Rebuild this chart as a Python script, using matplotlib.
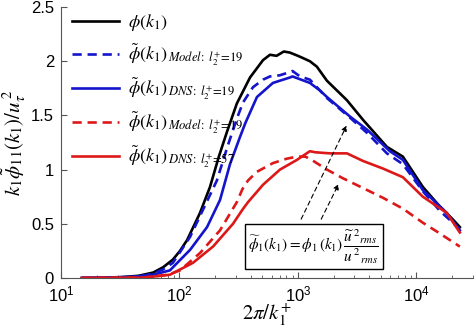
import matplotlib.pyplot as plt

plt.rcParams['font.family'] = ['Liberation Sans', 'DejaVu Sans']
plt.rcParams['mathtext.fontset'] = 'stix'
plt.rcParams['font.size'] = 12

# phi(k1), unfiltered
x_phi = [15, 30, 45, 60, 73, 88, 101, 116, 149, 181, 215, 252, 305, 394, 507, 581,
         660, 760, 855, 1000, 1100, 1262, 1445, 1758, 2594, 3540, 5636, 7690,
         11340, 15780, 20330, 23270]
y_phi = [0, 0.005, 0.02, 0.05, 0.10, 0.17, 0.25, 0.35, 0.60, 0.84, 1.12, 1.35, 1.61,
         1.85, 2.01, 2.06, 2.05, 2.09, 2.08, 2.05, 2.03, 2.00, 1.95, 1.82, 1.64, 1.46,
         1.21, 1.12, 0.84, 0.66, 0.54, 0.47]

# filtered, model, l2+ = 19
x_model19 = [15, 45, 60, 73, 88, 123, 158, 207, 252, 305, 344, 417, 507, 581, 700,
             855, 900, 1040, 1262, 1758, 2748, 3822, 5636, 7690, 11340, 15780, 23270]
y_model19 = [0, 0.01, 0.04, 0.08, 0.14, 0.38, 0.63, 0.90, 1.20, 1.47, 1.62, 1.76,
             1.83, 1.86, 1.87, 1.90, 1.91, 1.86, 1.83, 1.66, 1.48, 1.34, 1.15, 1.05,
             0.80, 0.62, 0.45]

# filtered, DNS, l2+ = 19
x_dns19 = [15, 40, 60, 83, 123, 171, 220, 267, 324, 360, 451, 615, 855, 900, 1262,
           1535, 1758, 2748, 3822, 5970, 7690, 11340, 18070, 23270]
y_dns19 = [0, 0.01, 0.03, 0.07, 0.26, 0.47, 0.72, 1.05, 1.30, 1.43, 1.67, 1.80, 1.85,
           1.86, 1.80, 1.73, 1.67, 1.49, 1.37, 1.17, 1.09, 0.81, 0.60, 0.44]

# filtered, model, l2+ = 19 (red)
x_model19b = [15, 50, 80, 101, 149, 220, 305, 340, 379, 451, 615, 800, 981, 1150,
              1262, 1758, 2400, 3540, 5217, 7690, 11340, 14800, 23270]
y_model19b = [0, 0.005, 0.03, 0.07, 0.23, 0.44, 0.70, 0.82, 0.90, 0.98, 1.06, 1.10,
              1.12, 1.12, 1.10, 1.00, 0.92, 0.83, 0.74, 0.64, 0.51, 0.43, 0.29]

# filtered, DNS, l2+ = 57
x_dns57 = [15, 50, 83, 130, 192, 283, 340, 379, 507, 705, 981, 1262, 1400, 1862,
           2594, 3540, 5217, 7690, 11340, 18070, 23270]
y_dns57 = [0, 0.003, 0.03, 0.14, 0.29, 0.50, 0.63, 0.70, 0.86, 1.00, 1.09, 1.17,
           1.16, 1.15, 1.15, 1.08, 1.01, 0.93, 0.75, 0.60, 0.42]

blue = '#1414cc'
red = '#dd1818'
lw = 1.9

fig = plt.figure(figsize=(4.74, 3.32), dpi=100)
ax = fig.add_axes([0.1287, 0.1627, 0.869, 0.816])

ax.semilogx(x_phi, y_phi, color='k', lw=lw, label=r'$\phi(k_1)$')
ax.semilogx(x_model19, y_model19, color=blue, lw=lw, ls=(0, (3.5, 2.2)),
            label=r'$\tilde{\phi}(k_1)_{\,Model\!:\;l_2^{+}\!=\!19}$')
ax.semilogx(x_dns19, y_dns19, color=blue, lw=lw,
            label=r'$\tilde{\phi}(k_1)_{\,DNS\!:\;l_2^{+}\!=\!19}$')
ax.semilogx(x_model19b, y_model19b, color=red, lw=lw, ls=(0, (3.5, 2.2)),
            label=r'$\tilde{\phi}(k_1)_{\,Model\!:\;l_2^{+}\!=\!19}$')
ax.semilogx(x_dns57, y_dns57, color=red, lw=lw,
            label=r'$\tilde{\phi}(k_1)_{\,DNS\!:\;l_2^{+}\!=\!57}$')

ax.set_xlim(10, 3e4)
ax.set_ylim(0, 2.5)
ax.spines['top'].set_visible(False)
ax.spines['right'].set_visible(False)
ax.spines['left'].set_color('#555555')
ax.spines['bottom'].set_color('#555555')

ax.set_yticks([0, 0.5, 1, 1.5, 2, 2.5], labels=['0', '0.5', '1', '1.5', '2', '2.5'])
ax.set_xticks([10, 100, 1000, 10000],
              labels=[r'$10^1$', r'$10^2$', r'$10^3$', r'$10^4$'])
plt.rcParams['mathtext.rm'] = 'Liberation Sans'
plt.rcParams['mathtext.it'] = 'Liberation Sans:italic'
for t in ax.get_xticklabels():
    t.set_math_fontfamily('custom')
ax.tick_params(which='both', direction='in', color='#555555')
ax.tick_params(which='major', length=4, pad=5)
ax.tick_params(which='minor', length=2.5)

ax.set_xlabel(r'$2\pi/k_1^{+}$', fontsize=15, labelpad=-2)
ax.set_ylabel(r'$k_1\tilde{\phi}_{11}(k_1)/u_\tau^{\,2}$', fontsize=15, labelpad=2)

ax.legend(loc='upper left', bbox_to_anchor=(0.0, 1.02), frameon=False, fontsize=13,
          handlelength=2.6, handletextpad=0.5, labelspacing=0.45, borderaxespad=0.2)

# filtering relation and pointers
arrow = dict(arrowstyle='-|>', ls=(0, (4, 3)), color='k', lw=0.8, mutation_scale=8)
ax.annotate('', xy=(2640, 1.43), xytext=(1040, 0.52), arrowprops=arrow)
ax.annotate('', xy=(2260, 0.89), xytext=(1535, 0.52), arrowprops=arrow)
ax.text(1365, 0.29,
        r'$\widetilde{\phi}_1(k_1) = \phi_1\,(k_1)\,'
        r'\dfrac{\widetilde{u}^{\,2}{}_{rms}}{u^{\,2}{}_{rms}}$',
        ha='center', va='center', fontsize=11,
        bbox=dict(boxstyle='square,pad=0.25', fc='white', ec='k', lw=1))

fig.savefig('out.png', dpi=100)
